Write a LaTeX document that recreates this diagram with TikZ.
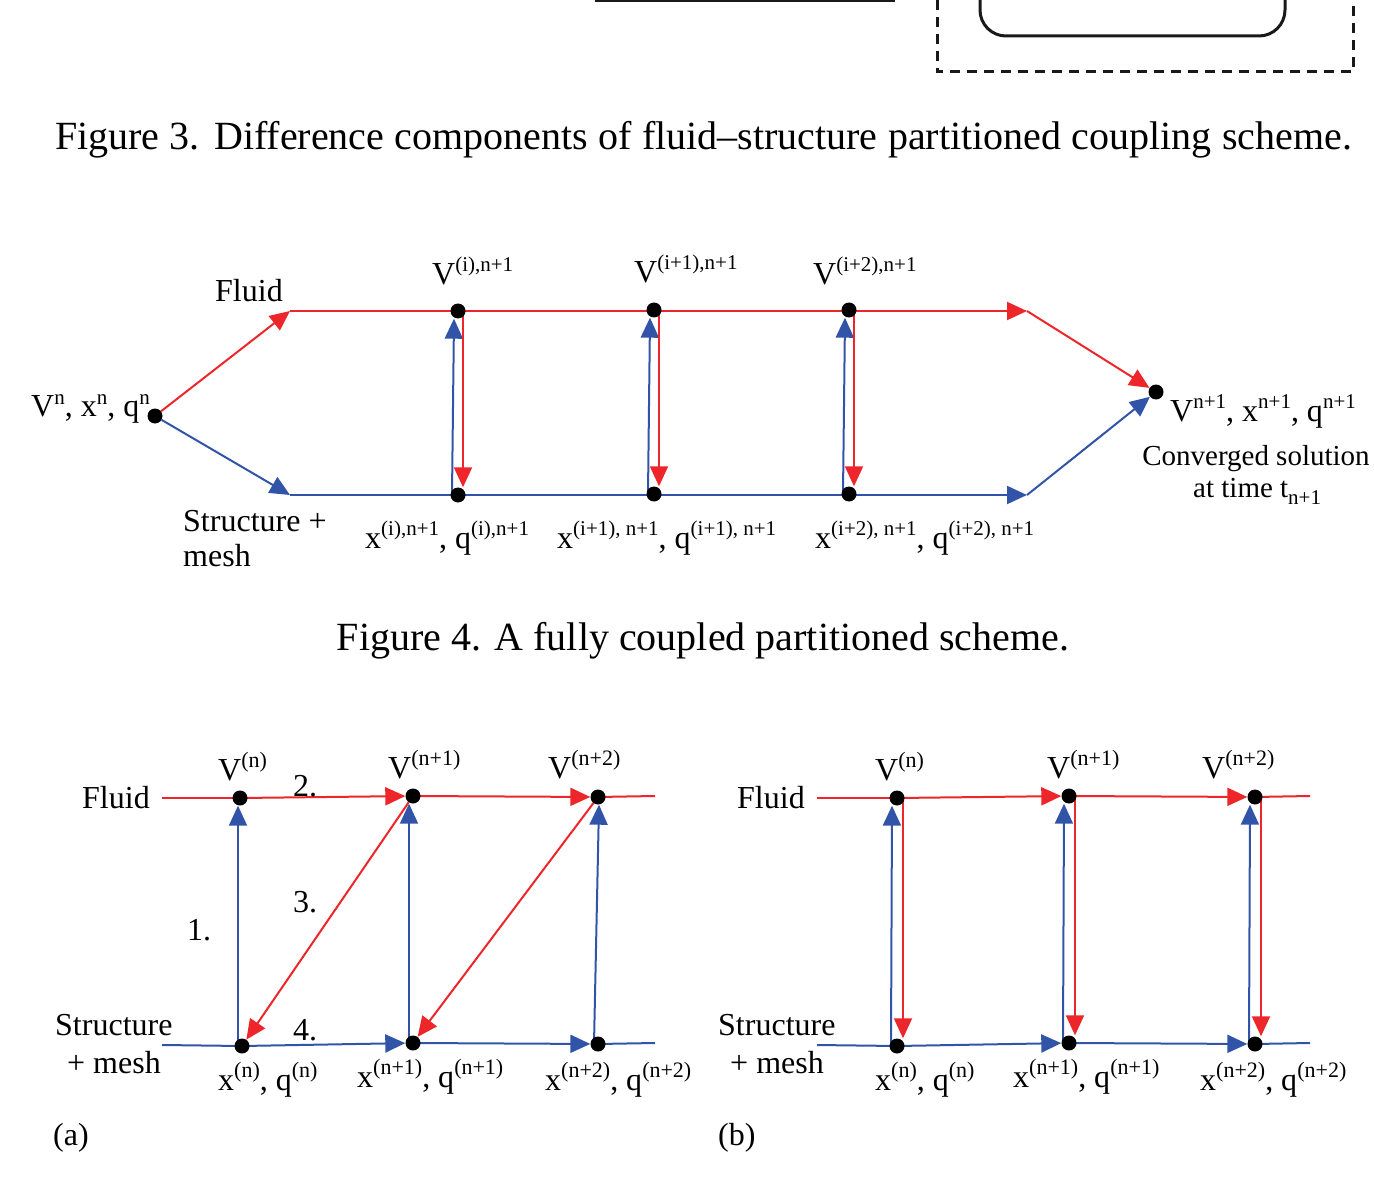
\documentclass[tikz,border=0pt]{standalone}
\usepackage{fontspec}
\setmainfont{Liberation Serif}
\usetikzlibrary{arrows.meta}
\definecolor{myred}{RGB}{236,38,42}
\definecolor{myblue}{RGB}{50,84,168}
\newcommand\supx[1]{\raisebox{13pt}{\fontsize{21}{21}\selectfont #1}}
\newcommand\supb[1]{\raisebox{13pt}{\fontsize{22}{22}\selectfont #1}}
\newcommand\subx[1]{\raisebox{-7pt}{\fontsize{21}{21}\selectfont #1}}
\pgfdeclarelayer{bg}
\pgfsetlayers{bg,main}
\begin{document}
\begin{tikzpicture}[x=1pt,y=-1pt,
 rl/.style={draw=myred, line width=2pt},
 bl/.style={draw=myblue, line width=2pt},
 tipped/.style={-{Triangle[length=20pt,width=18pt]}},
 dot/.style={circle, fill=black, inner sep=0pt, minimum size=15pt},
 lbl/.style={font=\fontsize{32}{36}\selectfont, inner sep=0pt, anchor=base west},
 captxt/.style={font=\fontsize{40}{44}\selectfont, inner sep=0pt, anchor=base},
 framepart/.style={line width=3pt, draw=black!90}
]
\useasboundingbox (0,0) rectangle (1374,1198);

% fragments of figure 3
\draw[framepart] (595,1) -- (895,1);
\draw[framepart, dash pattern=on 10pt off 7pt] (937,0) -- (937,72) -- (1353,72) -- (1353,0);
\draw[framepart, rounded corners=26pt] (980,0) -- (980,36) -- (1285,36) -- (1285,0);

\node[captxt] (cap3) at (703.5,150) {\makebox[1297pt][s]{Figure 3. Difference components of fluid–structure partitioned coupling scheme.}};
\node[captxt] (cap4) at (703,650) {Figure 4. A fully coupled partitioned scheme.};

% ---------- Figure 4 ----------
\node[dot] (s0) at (155,416) {};
\coordinate (f1) at (290,311);
\coordinate (f2) at (1027,311);
\coordinate (g1) at (290,495);
\coordinate (g2) at (1027,495);
\node[dot] (t1) at (458,311) {};
\node[dot] (t2) at (654,310) {};
\node[dot] (t3) at (849,310) {};
\node[dot] (b1) at (458,495) {};
\node[dot] (b2) at (654,494) {};
\node[dot] (b3) at (849,494) {};
\node[dot] (e0) at (1156,392) {};

\begin{pgfonlayer}{bg}
\draw[rl,tipped] (s0) -- (f1);
\draw[rl,tipped] (f1) -- (f2);
\draw[rl,tipped] (f2) -- (e0);
\draw[bl,tipped] (s0) -- (g1);
\draw[bl,tipped] (g1) -- (g2);
\draw[bl,tipped] (g2) -- (e0);
\foreach \i in {1,2,3}{
  \draw[bl,tipped] ([xshift=-6pt]b\i.center) -- ([xshift=-4pt]t\i.south);
  \draw[rl,tipped] ([xshift=5pt]t\i.center) -- ([xshift=5pt]b\i.north);
}
\end{pgfonlayer}

\node[lbl, anchor=base east] (l0) at (150,417) {V\supx{n}, x\supx{n}, q\supx{n}};
\node[lbl] (lfl) at (215,302) {Fluid};
\node[lbl] (lst) at (183,531) {Structure +};
\node[lbl] (lme) at (183,566) {mesh};
\node[lbl] (lv1) at (432,285) {V\supx{(i),n+1}};
\node[lbl] (lv2) at (634,283) {V\supx{(i+1),n+1}};
\node[lbl] (lv3) at (813,285) {V\supx{(i+2),n+1}};
\node[lbl] (lx1) at (365,548) {x\supx{(i),n+1}, q\supx{(i),n+1}};
\node[lbl] (lx2) at (557,548) {x\supx{(i+1), n+1}, q\supx{(i+1), n+1}};
\node[lbl] (lx3) at (815,548) {x\supx{(i+2), n+1}, q\supx{(i+2), n+1}};
\node[lbl] (le0) at (1170,421) {V\supx{n+1}, x\supx{n+1}, q\supx{n+1}};
\node[lbl, anchor=base, font=\fontsize{29}{32}\selectfont] (lcv) at (1256,465) {Converged solution};
\node[lbl, font=\fontsize{29}{32}\selectfont] (lat) at (1193,497) {at time t\subx{n+1}};

% ---------- Figure 5(a) ----------
\coordinate (as) at (162,798);
\coordinate (ae) at (655,796);
\coordinate (bs) at (162,1045);
\coordinate (be) at (655,1043);
\node[dot] (a1) at (240,798) {};
\node[dot] (a2) at (413,796) {};
\node[dot] (a3) at (598,797) {};
\node[dot] (c1) at (242,1046) {};
\node[dot] (c2) at (413,1043) {};
\node[dot] (c3) at (598,1044) {};

\begin{pgfonlayer}{bg}
\draw[rl] (as) -- (a1.center);
\draw[rl,tipped] (a1.center) -- (a2);
\draw[rl,tipped] (a2.center) -- (a3);
\draw[rl] (a3.center) -- (ae);
\draw[bl] (bs) -- (c1.center);
\draw[bl,tipped] (c1.center) -- (c2);
\draw[bl,tipped] (c2.center) -- (c3);
\draw[bl] (c3.center) -- (be);
\draw[bl,tipped] ([xshift=-4pt]c1.center) -- ([xshift=-2pt]a1.south);
\draw[bl,tipped] ([xshift=-4pt]c2.center) -- ([xshift=-4pt]a2.south);
\draw[bl,tipped] ([xshift=-4pt]c3.center) -- ([xshift=1pt]a3.south);
\draw[rl,tipped] (a2) -- (c1);
\draw[rl,tipped] (a3) -- (c2);
\end{pgfonlayer}

\node[lbl] (afl) at (82,808) {Fluid};
\node[lbl] (ast) at (55,1035) {Structure};
\node[lbl] (ame) at (67,1073) {+ mesh};
\node[lbl] (av1) at (218,780) {V\supb{(n)}};
\node[lbl] (av2) at (388,778) {V\supb{(n+1)}};
\node[lbl] (av3) at (548,778) {V\supb{(n+2)}};
\node[lbl] (ax1) at (218,1090) {x\supb{(n)}, q\supb{(n)}};
\node[lbl] (ax2) at (357,1087) {x\supb{(n+1)}, q\supb{(n+1)}};
\node[lbl] (ax3) at (545,1090) {x\supb{(n+2)}, q\supb{(n+2)}};
\node[lbl] (an1) at (187,940) {1.};
\node[lbl] (an2) at (293,796) {2.};
\node[lbl] (an3) at (293,912) {3.};
\node[lbl] (an4) at (293,1040) {4.};
\node[lbl] (alab) at (53,1145) {(a)};

% ---------- Figure 5(b) ----------
\coordinate (ps) at (817,798);
\coordinate (pe) at (1310,796);
\coordinate (qs) at (817,1045);
\coordinate (qe) at (1310,1043);
\node[dot] (p1) at (897,798) {};
\node[dot] (p2) at (1069,796) {};
\node[dot] (p3) at (1255,797) {};
\node[dot] (q1) at (897,1046) {};
\node[dot] (q2) at (1069,1043) {};
\node[dot] (q3) at (1255,1044) {};

\begin{pgfonlayer}{bg}
\draw[rl] (ps) -- (p1.center);
\draw[rl,tipped] (p1.center) -- (p2);
\draw[rl,tipped] (p2.center) -- (p3);
\draw[rl] (p3.center) -- (pe);
\draw[bl] (qs) -- (q1.center);
\draw[bl,tipped] (q1.center) -- (q2);
\draw[bl,tipped] (q2.center) -- (q3);
\draw[bl] (q3.center) -- (qe);
\foreach \i in {1,2,3}{
  \draw[bl,tipped] ([xshift=-6pt]q\i.center) -- ([xshift=-5pt]p\i.south);
  \draw[rl,tipped] ([xshift=6pt]p\i.center) -- ([xshift=6pt]q\i.north);
}
\end{pgfonlayer}

\node[lbl] (bfl) at (737,808) {Fluid};
\node[lbl] (bst) at (718,1035) {Structure};
\node[lbl] (bme) at (730,1073) {+ mesh};
\node[lbl] (bv1) at (875,780) {V\supb{(n)}};
\node[lbl] (bv2) at (1047,778) {V\supb{(n+1)}};
\node[lbl] (bv3) at (1202,778) {V\supb{(n+2)}};
\node[lbl] (bx1) at (875,1090) {x\supb{(n)}, q\supb{(n)}};
\node[lbl] (bx2) at (1013,1087) {x\supb{(n+1)}, q\supb{(n+1)}};
\node[lbl] (bx3) at (1200,1090) {x\supb{(n+2)}, q\supb{(n+2)}};
\node[lbl] (blab) at (718,1145) {(b)};
\end{tikzpicture}
\end{document}
